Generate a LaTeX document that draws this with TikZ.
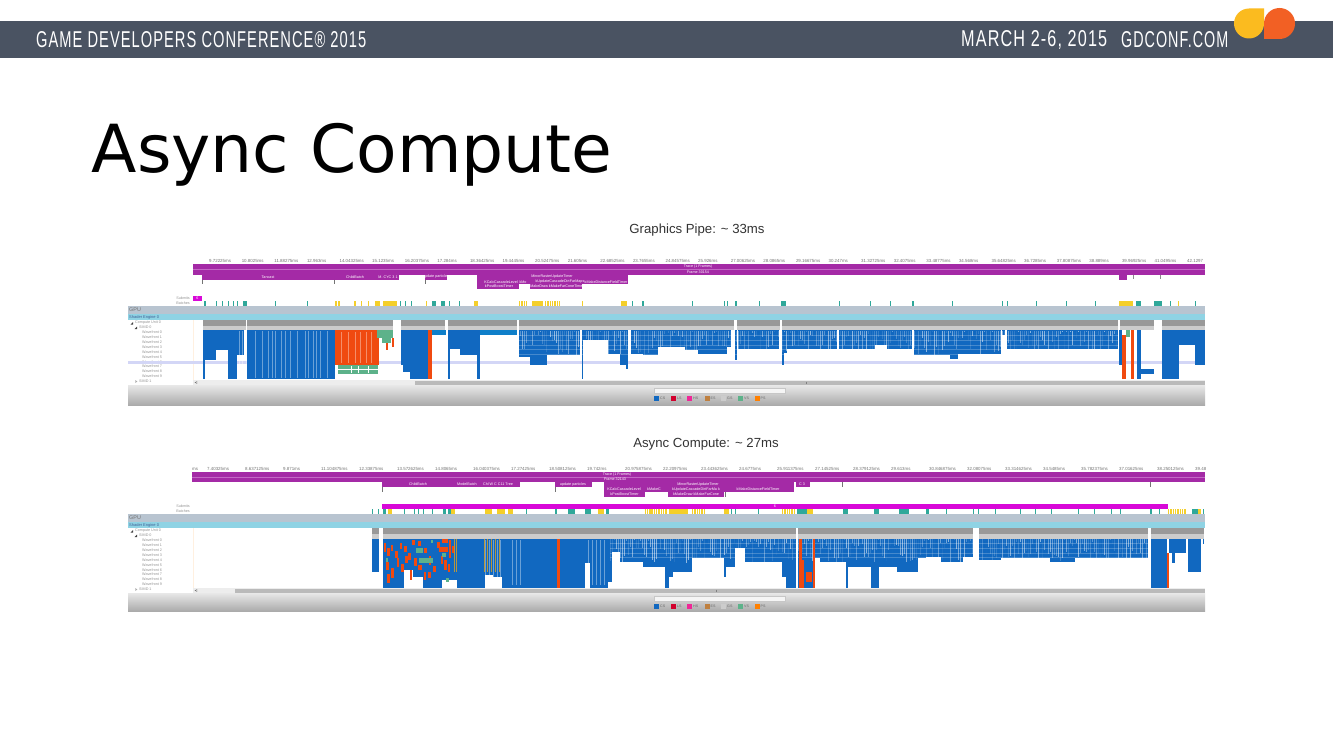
\documentclass[tikz,border=0pt]{standalone}
\usepackage{fontspec}
\setmainfont{Liberation Sans}
\newfontfamily\titlefont{DejaVu Sans}
\newfontfamily\bannerfont[LetterSpace=7]{Liberation Sans}
\definecolor{slidebar}{HTML}{4A5362}
\definecolor{logoyellow}{HTML}{FBBB1F}
\definecolor{logoorange}{HTML}{F26024}
\definecolor{csblue}{HTML}{1168C0}
\definecolor{psorange}{HTML}{F04A10}
\definecolor{vsgreen}{HTML}{5DB28A}
\definecolor{tracepurple}{HTML}{A42AA6}
\definecolor{tracelight}{HTML}{C468C6}
\definecolor{submitpink}{HTML}{D808D8}
\definecolor{batchteal}{HTML}{2FA89A}
\definecolor{batchyellow}{HTML}{F4CF2A}
\definecolor{gpuband}{HTML}{B8C4D0}
\definecolor{engineband}{HTML}{8FD3E4}
\definecolor{rowstrip}{HTML}{D3D6F6}
\tikzset{
  ticklabel/.style={font=\fontsize{4.4}{5}\selectfont,text=black!55,inner sep=0,anchor=west},
  tracelabel/.style={font=\fontsize{3.7}{4}\selectfont,text=white,inner sep=0},
  treelabel/.style={font=\fontsize{3.7}{4}\selectfont,text=black!42,inner sep=0,anchor=west},
  caption/.style={font=\fontsize{13.2}{15}\selectfont,text=black!80,inner sep=0},
  bannertext/.style={inner sep=0,anchor=west,text=white,font=\bannerfont},
  csfill/.style={fill=csblue},
  psfill/.style={fill=psorange},
  vsfill/.style={fill=vsgreen},
  tracefill/.style={fill=tracepurple},
  streak/.style={draw=white,opacity=.38,line width=.45},
  rowline/.style={draw=white,opacity=.22,line width=.4}
}
\begin{document}
\begin{tikzpicture}[x=1pt,y=-1pt]
\pgfmathsetseed{41}
\useasboundingbox (0,0) rectangle (1333,749);
\fill[white] (0,0) rectangle (1333,749);
\fill[slidebar] (0,21) rectangle (1333,58.5);
\node[bannertext] (confname) at (36,39.5) {\resizebox{330pt}{16pt}{GAME DEVELOPERS CONFERENCE® 2015}};
\node[bannertext] (confdate) at (961,39.5) {\resizebox{146pt}{16pt}{MARCH 2-6, 2015}};
\node[bannertext] (confsite) at (1121,39.5) {\resizebox{107pt}{16pt}{GDCONF.COM}};
\fill[logoyellow] (1249,8.5) -- (1264,8.5) -- (1264,23.5) arc[start angle=0,end angle=270,radius=15] -- cycle;
\fill[logoorange] (1264,23.5) -- (1264,39) -- (1279.5,39) arc[start angle=90,end angle=-180,radius=15.5] -- cycle;
\node[inner sep=0,anchor=base west,font=\titlefont\fontsize{66.3}{70}\selectfont] (slidetitle) at (91.5,172) {Async Compute};
\node[caption] (gfxcaption) at (697,230.5) {Graphics Pipe: \textasciitilde{} 33ms};
\node[caption] (asynccaption) at (706,444.5) {Async Compute: \textasciitilde{} 27ms};

\foreach \dy/\tag/\bot in {0/A/405,208/B/403}{
\begin{scope}[shift={(0,\dy)}]
\fill[gpuband] (128,306) rectangle (1205,314);
\fill[engineband] (128,314) rectangle (1205,320);
\draw[orange!12,line width=.5] (193,320) -- (193,380);
\node[inner sep=0,anchor=west,font=\fontsize{5.4}{6}\selectfont,text=black!55] (gpu\tag) at (129,310) {GPU};
\node[inner sep=0,anchor=west,font=\fontsize{4}{5}\selectfont,text=black!50!cyan!60!blue] (engine\tag) at (129,317) {Shader Engine 0};
\fill[black!75] (130.5,324.5) -- (133,324.5) -- (133,322) -- cycle;
\node[treelabel] (unit\tag) at (135,323) {Compute Unit 0};
\fill[black!75] (134.5,329) -- (137,329) -- (137,326.5) -- cycle;
\node[treelabel] (simdzero\tag) at (139,327.7) {SIMD 0};
\foreach \i in {0,...,9}
  \node[treelabel] (wave\tag\i) at (142,332.5+4.87*\i) {Wavefront \i};
\draw[black!40,line width=.3] (135.5,380.5) -- (137,381.5) -- (135.5,382.5) -- cycle;
\node[treelabel] (simdone\tag) at (139,381.5) {SIMD 1};
\fill[black!7] (193,380) rectangle (1205,385);
\shade[top color=black!9,bottom color=black!33] (128,385) rectangle (1205,\bot);
\fill[white!96!black,draw=black!22,line width=.3] (654,388) rectangle (785,393);
\foreach \x/\c/\s in {654/csblue/CS,671/purple!70!red/LS,687/magenta!80!pink/HS,704.5/brown/ES,721/black!20/GS,738/vsgreen/VS,754.5/orange/PS}{
  \fill[\c] (\x,395.5) rectangle (\x+5,400.5);
  \node[inner sep=0,anchor=west,font=\fontsize{3.6}{4}\selectfont,text=black!60] (legend\tag\s) at (\x+6,398) {\s};
}
\end{scope}
}

\foreach \lbl [count=\i from 0] in {9.72225,10.8025,11.88275,12.963,14.04325,15.1235,16.20375,17.284,18.36425,19.4445,20.52475,21.605,22.68525,23.7655,24.84575,25.926,27.00625,28.0865,29.16675,30.247,31.32725,32.4075,33.48775,34.568,35.64825,36.7285,37.80875,38.889,39.96925,41.0495}
  \node[ticklabel] (gfxtick\i) at (209+32.6*\i,260.5) {\lbl ms};
\node[ticklabel] (gfxtickend) at (1187,260.5) {42.1297};
\fill[tracefill] (193,264) rectangle (1205,274.5);
\draw[tracelight,line width=.6] (193,269.2) -- (1205,269.2);
\fill[tracefill] (202,274.5) rectangle (399,279.5);
\fill[tracefill] (425,274.5) rectangle (447,279.5);
\fill[tracefill] (477,274.5) rectangle (628,284);
\fill[tracefill] (477,284) rectangle (519,289);
\fill[tracefill] (530,284) rectangle (582,289);
\fill[tracefill] (1119,274.5) rectangle (1127,279.5);
\draw[black!55,line width=.5] (202,279.5) -- (202,284);
\draw[black!55,line width=.5] (334,279.5) -- (334,284);
\draw[black!55,line width=.5] (425,279.5) -- (425,284);
\draw[black!45,line width=.5] (1133,274.5) -- (1133,279);
\draw[black!45,line width=.5] (1160,274.5) -- (1160,279);
\node[tracelabel] (gfxtrace) at (698,267) {Trace (1 Frames)};
\node[tracelabel] (gfxframe) at (698,271.8) {Frame 30154};
\node[tracelabel] (gfxcast) at (268,277) {Tancast};
\node[tracelabel] (gfxchild) at (355,277) {ChildBatch};
\node[tracelabel] (gfxcyc) at (388,277) {M. CYC 3 1};
\node[tracelabel] (gfxpart) at (436,277) {update particles};
\node[tracelabel] (gfxminor) at (552,277) {MinorRasterUpdateTimer};
\node[tracelabel] (gfxcalc) at (501,281.7) {KCalcCascadeLevel};
\node[tracelabel] (gfxkmo) at (523,281.7) {kMo};
\node[tracelabel] (gfxdirt) at (560,281.7) {kUpdateCascadeDirtFarMaps};
\node[tracelabel] (gfxdist) at (606,281.7) {kMakeDistanceFieldTimer};
\node[tracelabel] (gfxpost) at (499,286.5) {kPostBoostTimer};
\node[tracelabel] (gfxcone) at (556,286.5) {kMakeDraw kMakeFarConeTimer};
\fill[submitpink] (193,296) rectangle (202,301);
\node[tracelabel] (gfxsubmitnum) at (197.5,298.5) {6};
\node[treelabel,anchor=east] (gfxsubmit) at (190,298) {Submits};
\node[treelabel,anchor=east] (gfxbatch) at (190,303) {Batches};
\foreach \x in {216,222,228,233,237,275,307,400,405,411,449,459,632,692.5,724,727.5,759,839,870,890,952,1002,1007,1036,1066,1095,1170,1195}
  \draw[batchteal,line width=.8] (\x,301) -- (\x,306);
\foreach \a/\b in {204/205.5,243/247,432/436,441/445,642/644,735/737,781/786,912/914,1136/1141,1154/1162}
  \fill[batchteal] (\a,301) rectangle (\b,306);
\foreach \a/\b in {335/337,338/340,354/356,361/362,368/369,375/380,383/397,426/427,474/478,532/543,582/583,621/627,1119/1133,1178/1179}
  \fill[batchyellow] (\a,301) rectangle (\b,306);
\foreach \a/\b in {519/528,545/560}
  \draw[batchyellow,line width=5,dash pattern=on 1.4 off .9] (\a,303.5) -- (\b,303.5);
\foreach \a/\b in {203/246,247/393,401/445,448/517,519/734,737/780,782/1118,1120/1154,1162/1205}{
  \fill[black!40] (\a,320) rectangle (\b,326);
  \fill[black!20] (\a,326) rectangle (\b,330);
}
\fill[rowstrip] (128,360.7) rectangle (1205,364);
\foreach \a/\b/\c in {203/205/378.5,205/216/360,216/227.5/350,227.5/237/379,237/244/355,247/335/379,401/403/365,403/410/372,410/428/379,448/450/379,450/460/349,460/477/355,477/480/379,519/530/357,530/547/364.5,547/560/355,560/580/355,581.5/582.5/379,583/608/340,608/620/354,620/626/365,626/628/369,631/643/354,643/658/355,658/685/347,685/697.5/350,697.5/727/354,727/731/347,735/737/360,738/779/349,782/784/365,784/787/353,787/837/349,839/875/349,875/887/345,887/912/349,914/950/355,950/958/359,958/1001/354,1002/1005/335,1007/1118/349,1119/1122/365,1137/1141/379,1162/1179/379,1179/1195/345,1195/1205/364.5}
  \fill[csfill] (\a,330) rectangle (\b,\c);
\foreach \a/\b in {432/446,480/517}
  \fill[csblue!85!cyan] (\a,330) rectangle (\b,335);
\fill[csblue] (1141,369) rectangle (1154,374);
\foreach \x in {255,262,268,272,275,281,285,290,297,305,308,313,316,320,327,239,242,246}
  \draw[streak] (\x,331) -- (\x,378);
\foreach \x in {520,522,...,1118}{
  \pgfmathsetmacro\fade{rnd*.55}
  \pgfmathsetmacro\reach{331+rnd*24}
  \draw[white,opacity=\fade,line width=.5] (\x,331) -- (\x,\reach);
}
\foreach \y in {335,339.8,344.7,349.6,354.4}
  \draw[rowline] (519,\y) -- (1118,\y);
\fill[psfill] (335,330) rectangle (377,365);
\fill[psfill] (428,330) rectangle (432,379);
\fill[psfill] (1122,335) rectangle (1126,379);
\fill[psfill] (1131,330) rectangle (1134,379);
\foreach \x in {341,348,355,360,366,371}
  \draw[streak] (\x,332) -- (\x,363);
\fill[vsfill] (377,330) rectangle (393,338);
\fill[vsfill] (382,338) rectangle (391,343);
\fill[psfill] (377,338) rectangle (379,365);
\fill[psfill] (386,343) rectangle (388,350);
\fill[psfill] (392,338) rectangle (393.5,347);
\fill[vsfill] (338,365) rectangle (378,374);
\foreach \x in {351,358,368}
  \draw[white,line width=.7] (\x,366) -- (\x,373);
\draw[white,line width=.4] (338,369.5) -- (378,369.5);
\fill[vsfill] (1126,330) rectangle (1130,337);
\fill[black!7] (193,380) rectangle (415,385);
\fill[black!27] (415,381) rectangle (1205,385);
\draw[black!55,line width=.4] (195,382.5) -- (197,381.5) -- (197,383.5) -- cycle;
\draw[black!50,line width=.6] (806,381.5) -- (806,384);

\foreach \lbl [count=\i from 0] in {7.40325,8.637125,9.871,11.104875,12.33875,13.572625,14.8065,16.040375,17.27425,18.508125,19.742,20.975875,22.20975,23.443625,24.6775,25.911375,27.14525,28.379125,29.613,30.846875,32.08075,33.314625,34.5485,35.782375,37.01625,38.250125}
  \node[ticklabel] (asynctick\i) at (207+38*\i,469) {\lbl ms};
\node[ticklabel] (asynctickstart) at (192,469) {ms};
\node[ticklabel] (asynctickend) at (1195,469) {39.48};
\fill[tracefill] (192,472) rectangle (1205,482);
\draw[tracelight,line width=.6] (192,477) -- (1205,477);
\fill[tracefill] (382,482) rectangle (520,487);
\fill[tracefill] (555,482) rectangle (592,487);
\fill[tracefill] (604,482) rectangle (794,492);
\fill[tracefill] (604,492) rectangle (645,497);
\fill[tracefill] (668,492) rectangle (724,497);
\fill[tracefill] (795.5,482) rectangle (810,487);
\draw[black!55,line width=.5] (382,487) -- (382,492);
\draw[black!55,line width=.5] (555,487) -- (555,492);
\draw[black!55,line width=.5] (725.6,492) -- (725.6,497);
\draw[black!55,line width=.5] (842.6,482) -- (842.6,487);
\draw[black!55,line width=.5] (1150,482) -- (1150,487);
\node[tracelabel] (asynctrace) at (617,474.5) {Trace (1 Frames)};
\node[tracelabel] (asyncframe) at (615,479.5) {Frame 32143};
\node[tracelabel] (asyncchild) at (418,484.5) {ChildBatch};
\node[tracelabel] (asyncmodel) at (467,484.5) {ModelBatch};
\node[tracelabel] (asyncchl) at (498,484.5) {Chl W C C11 Tree};
\node[tracelabel] (asyncpart) at (573,484.5) {update particles};
\node[tracelabel] (asyncminor) at (698,484.5) {MinorRasterUpdateTimer};
\node[tracelabel] (asynccalc) at (624,489.5) {KCalcCascadeLevel};
\node[tracelabel] (asyncmake) at (654,489.5) {kMakeC};
\node[tracelabel] (asyncdirt) at (696,489.5) {kUpdateCascadeDirtFarMa k};
\node[tracelabel] (asyncdist) at (758,489.5) {kMakeDistanceFieldTimer};
\node[tracelabel] (asyncpost) at (624.5,494.5) {kPostBoostTimer};
\node[tracelabel] (asynccone) at (696,494.5) {kMakeDraw kMakeFarCone};
\node[tracelabel] (asynccc) at (802,484.5) {C 3};
\fill[submitpink] (382,504) rectangle (1168,509);
\node[tracelabel] (asyncsubmitnum) at (775,506.5) {6};
\node[treelabel,anchor=east] (asyncsubmit) at (190,506.5) {Submits};
\node[treelabel,anchor=east] (asyncbatch) at (190,511) {Batches};
\foreach \x in {372,378,404,418,423,432,526,731,735,758,946,973.6,978.5,995,1020,1035,1051,1078.5,1094.7,1111.7,1120,1159.6,1203}
  \draw[batchteal,line width=.8] (\x,509) -- (\x,514);
\foreach \a/\b in {383/386,414/415,443/446,448/451,555/556.5,568/575,585/591,606/609,797/807,843/848,873.5/878.5,899/909,926/929,1150/1151.5,1192/1198}
  \fill[batchteal] (\a,509) rectangle (\b,514);
\foreach \a/\b in {388/392,451/455,485/492,497/505,508/513,598/604,669/688,724/729,807/812.5,1198/1201}
  \fill[batchyellow] (\a,509) rectangle (\b,514);
\foreach \a/\b in {644.5/667,692/705,782/795,1168/1186}
  \draw[batchyellow,line width=5,dash pattern=on 1.4 off .9] (\a,511.5) -- (\b,511.5);
\foreach \a/\b in {372.3/379,383/795.5,798/973,978.5/1148,1151/1204}{
  \fill[black!40] (\a,528) rectangle (\b,534);
  \fill[black!20] (\a,534) rectangle (\b,538.5);
}
\foreach \a/\b/\c in {372.3/379/572,383/404/587.5,404/413/570,413/423/577,423/442/587.5,442/457/580,457/485/587.5,485/493/575,493/502/577,502/527/587.5,527/585/587.5,585/590/563,590/608/587.5,608/612/582,612/620/552,620/643/561.7,643/665/566.7,665/669/587.5,669/673/577,673/692/571.7,692/724/558,724/726/577,726/735/567,735/744.5/548,744.5/769/561.7,769/782/561.7,782/786/577,786/795.5/587.5,798/815/587.5,815/820/558,820/846/561.7,846/848/587.5,848/871/566.7,871/878.5/587.5,878.5/897/566.7,897/918/571.7,918/926/558,926/941/556.7,941/963/561.7,963/973/556.7,978.5/1001/560,1001/1050/558,1050/1075/562,1075/1148/558,1151/1167/587.5,1169/1172/553,1172/1175/563,1175/1186/553,1188/1201/572,1203/1204/544}
  \fill[csfill] (\a,538.5) rectangle (\b,\c);
\foreach \x in {485,489,493,497,500,512,516,520,588,592,596,600,604}
  \draw[streak] (\x,540) -- (\x,585);
\foreach \x in {610,612,...,1146}{
  \pgfmathsetmacro\fade{rnd*.55}
  \pgfmathsetmacro\reach{539+rnd*24}
  \draw[white,opacity=\fade,line width=.5] (\x,539) -- (\x,\reach);
}
\foreach \y in {543,547.9,552.7,557.6}
  \draw[rowline] (610,\y) -- (1148,\y);
\fill[psfill] (557,538.5) rectangle (560,587.5);
\fill[psfill] (799,538.5) rectangle (802,587.5);
\fill[psfill] (802,560) rectangle (804,587.5);
\fill[psfill] (812.5,538.5) rectangle (815,587.5);
\fill[psfill] (806,572) rectangle (812,582);
\fill[psfill] (1167,553) rectangle (1169,587.5);
\foreach \a/\b/\c/\d in {384/386/543/552,387/390/548/556,391/393/545/551,395/398/551/558,400/402/543/549,404/407/546/552,408/411/553/560,386/389/562/570,391/394/568/578,397/399/558/567,401/404/564/572,405/408/556/563,410/412/570/580,412/415/540/545,418/421/541/546,424/427/548/553,429/431/556/565,433/436/566/572,437/440/542/548,442/448/538.5/543,439/448/547/552,441/443/556/564,444/447/560/570,449/451/540/558,452/454/546/553,414/417/558/566,418/422/565/570,424/426/572/580,428/431/572/578,448/450/564/572,387/390/574/583}
  \fill[psfill] (\a,\c) rectangle (\b,\d);
\foreach \a/\b/\c/\d in {416/423/548/553,419/433/558/563,442/446/553/557,446/449/578/582,386/388/558/562,431/433/540/543}
  \fill[vsfill] (\a,\c) rectangle (\b,\d);
\foreach \x in {454,456,484,487,491,495,499}
  \draw[orange!55!vsgreen,line width=.4] (\x,538.5) -- (\x,572);
\fill[black!7] (193,588) rectangle (235,593);
\fill[black!27] (235,589) rectangle (1205,593);
\draw[black!55,line width=.4] (195,590.5) -- (197,589.5) -- (197,591.5) -- cycle;
\draw[black!50,line width=.6] (716,589.5) -- (716,592);
\end{tikzpicture}
\end{document}
